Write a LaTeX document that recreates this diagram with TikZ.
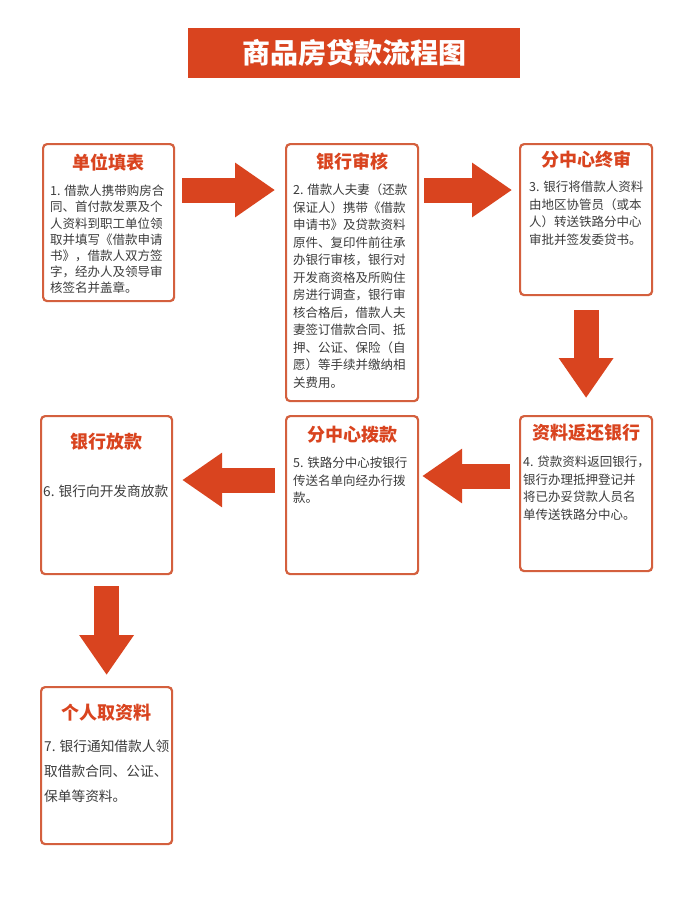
\documentclass[tikz,border=0pt]{standalone}
\usepackage{fontspec}
\setmainfont{Noto Sans CJK SC}
\usetikzlibrary{arrows.meta}
\definecolor{loanred}{HTML}{D9441F}
\definecolor{boxline}{HTML}{D4603E}
\definecolor{bodygray}{HTML}{3C3C3C}
\tikzset{
  stepframe/.style={draw=boxline, line width=2.2pt, rounded corners=4pt, anchor=north west, inner sep=0pt},
  steptitle/.style={text=loanred, font=\fontsize{18}{18}\selectfont\bfseries, inner sep=0pt},
  stepbody/.style={text=bodygray, font=\fontsize{12.5}{17.5}\selectfont, align=left, anchor=north west, inner sep=0pt},
  flowarrow/.style={draw=loanred, line width=25pt, -{Triangle[length=40pt,width=52pt]}}
}
\begin{document}
\begin{tikzpicture}[x=1pt,y=-1pt]
  \useasboundingbox[fill=white] (0,0) rectangle (700,900);
  % title
  \node[fill=loanred, text=white, minimum width=332pt, minimum height=50pt, inner sep=0pt,
        font=\fontsize{28}{28}\selectfont\bfseries] (title) at (354,53) {商品房贷款流程图};
  % boxes
  \node[stepframe, minimum width=131pt, minimum height=157pt] (b1) at (42,143) {};
  \node[stepframe, minimum width=132pt, minimum height=257pt] (b2) at (285,143) {};
  \node[stepframe, minimum width=132pt, minimum height=151pt] (b3) at (519,143) {};
  \node[stepframe, minimum width=132pt, minimum height=155pt] (b4) at (519,415) {};
  \node[stepframe, minimum width=132pt, minimum height=158pt] (b5) at (285,415) {};
  \node[stepframe, minimum width=131pt, minimum height=158pt] (b6) at (40,415) {};
  \node[stepframe, minimum width=131pt, minimum height=157pt] (b7) at (40,686) {};
  % headings
  \node[steptitle] (h1) at ([yshift=-20pt]b1.north) {单位填表};
  \node[steptitle] (h2) at ([yshift=-19pt]b2.north) {银行审核};
  \node[steptitle] (h3) at ([yshift=-17pt]b3.north) {分中心终审};
  \node[steptitle] (h4) at ([yshift=-18pt]b4.north) {资料返还银行};
  \node[steptitle] (h5) at ([yshift=-20pt]b5.north) {分中心拨款};
  \node[steptitle] (h6) at ([yshift=-27pt]b6.north) {银行放款};
  \node[steptitle] (h7) at ([yshift=-27pt]b7.north) {个人取资料};
  % texts
  \node[stepbody, font=\fontsize{12.5}{16.2}\selectfont] (t1) at ([xshift=8pt,yshift=-42pt]b1.north west)
    {1. 借款人携带购房合\\同、首付款发票及个\\人资料到职工单位领\\取并填写《借款申请\\书》，借款人双方签\\字，经办人及领导审\\核签名并盖章。};
  \node[stepbody] (t2) at ([xshift=8pt,yshift=-41pt]b2.north west)
    {2. 借款人夫妻（还款\\保证人）携带《借款\\申请书》及贷款资料\\原件、复印件前往承\\办银行审核，银行对\\开发商资格及所购住\\房进行调查，银行审\\核合格后，借款人夫\\妻签订借款合同、抵\\押、公证、保险（自\\愿）等手续并缴纳相\\关费用。};
  \node[stepbody] (t3) at ([xshift=10pt,yshift=-38pt]b3.north west)
    {3. 银行将借款人资料\\由地区协管员（或本\\人）转送铁路分中心\\审批并签发委贷书。};
  \node[stepbody] (t4) at ([xshift=4pt,yshift=-41pt]b4.north west)
    {4. 贷款资料返回银行，\\银行办理抵押登记并\\将已办妥贷款人员名\\单传送铁路分中心。};
  \node[stepbody] (t5) at ([xshift=8pt,yshift=-42pt]b5.north west)
    {5. 铁路分中心按银行\\传送名单向经办行拨\\款。};
  \node[stepbody, font=\fontsize{13.7}{25}\selectfont] (t6) at ([xshift=3pt,yshift=-70pt]b6.north west)
    {6. 银行向开发商放款};
  \node[stepbody, font=\fontsize{13.7}{25}\selectfont] (t7) at ([xshift=4pt,yshift=-54pt]b7.north west)
    {7. 银行通知借款人领\\取借款合同、公证、\\保单等资料。};
  % arrows
  \draw[flowarrow] ([xshift=7pt,yshift=-47pt]b1.north east) -- ([xshift=-10pt,yshift=-47pt]b2.north west);
  \draw[flowarrow] ([xshift=5pt,yshift=-47pt]b2.north east) -- ([xshift=-7pt,yshift=-47pt]b3.north west);
  \draw[flowarrow] ([yshift=-14pt]b3.south) -- ([yshift=17pt]b4.north);
  \draw[flowarrow] ([xshift=-9pt,yshift=-61pt]b4.north west) -- ([xshift=3pt,yshift=-61pt]b5.north east);
  \draw[flowarrow] ([xshift=-10pt,yshift=-65pt]b5.north west) -- ([xshift=9pt,yshift=-65pt]b6.north east);
  \draw[flowarrow] ([yshift=-11pt]b6.south) -- ([yshift=11pt]b7.north);
\end{tikzpicture}
\end{document}
